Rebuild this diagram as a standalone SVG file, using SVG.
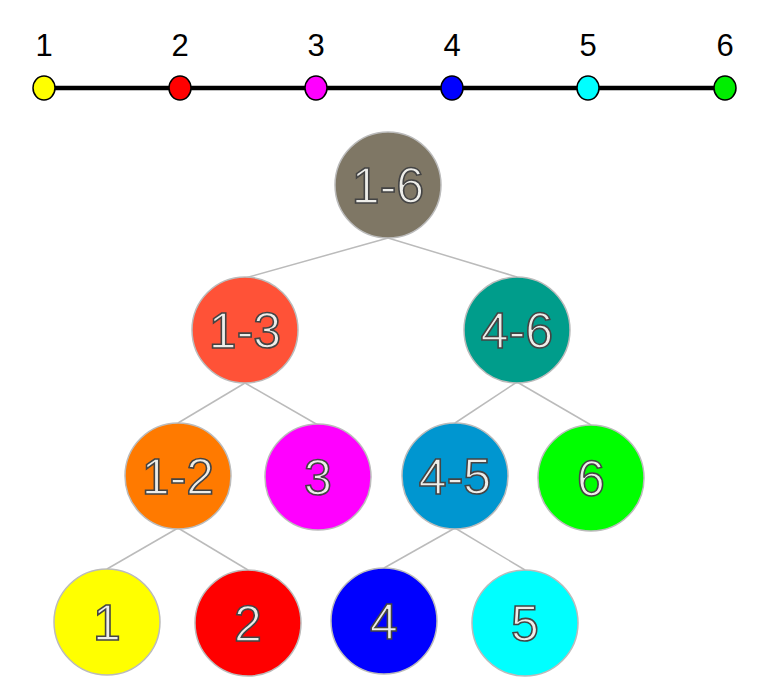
<svg xmlns="http://www.w3.org/2000/svg" width="768" height="696" viewBox="0 0 768 696">
<style>
.lbl{font-family:"Liberation Sans",Arial,sans-serif;font-size:31px;fill:#000;text-anchor:middle}
.dot{stroke:#000;stroke-width:1.5}
.node{stroke:#bbb;stroke-width:1.5}
.txt{font-family:"Liberation Sans",Arial,sans-serif;font-size:50px;fill:#eeeeea;stroke:#444;stroke-width:1.6;text-anchor:middle}
.edge{stroke:#bbb;stroke-width:1.5;fill:none}
</style>
<rect width="768" height="696" fill="#fff"/>
<g id="chain">
<line x1="44" y1="88" x2="725" y2="88" stroke="#000" stroke-width="4.5"/>
<text class="lbl" x="44" y="56">1</text>
<text class="lbl" x="180" y="56">2</text>
<text class="lbl" x="316" y="56">3</text>
<text class="lbl" x="452" y="56">4</text>
<text class="lbl" x="588" y="56">5</text>
<text class="lbl" x="725" y="56">6</text>
<ellipse class="dot" cx="44" cy="88" rx="11" ry="12" fill="#ffff00"/>
<ellipse class="dot" cx="180" cy="88" rx="11" ry="12" fill="#ff0000"/>
<ellipse class="dot" cx="316" cy="88" rx="11" ry="12" fill="#ff00ff"/>
<ellipse class="dot" cx="452" cy="88" rx="11" ry="12" fill="#0000ff"/>
<ellipse class="dot" cx="588" cy="88" rx="11" ry="12" fill="#00ffff"/>
<ellipse class="dot" cx="725" cy="88" rx="11" ry="12" fill="#00ee00"/>
</g>
<g id="connectors">
<line class="edge" x1="388" y1="238" x2="245" y2="278"/>
<line class="edge" x1="388" y1="238" x2="517" y2="277"/>
<line class="edge" x1="245" y1="383" x2="178" y2="423"/>
<line class="edge" x1="245" y1="383" x2="318" y2="425"/>
<line class="edge" x1="517" y1="382" x2="455" y2="423"/>
<line class="edge" x1="517" y1="382" x2="591" y2="425"/>
<line class="edge" x1="178" y1="528" x2="107" y2="569"/>
<line class="edge" x1="178" y1="528" x2="248" y2="570"/>
<line class="edge" x1="455" y1="528" x2="384" y2="568"/>
<line class="edge" x1="455" y1="528" x2="525" y2="570"/>
</g>
<g id="n16"><circle class="node" cx="388" cy="185" r="53" fill="#7f7765"/><text class="txt" x="388" y="203">1-6</text></g>
<g id="n13"><circle class="node" cx="245" cy="330" r="53" fill="#ff5237"/><text class="txt" x="245" y="348">1-3</text></g>
<g id="n46"><circle class="node" cx="517" cy="330" r="53" fill="#009d8b"/><text class="txt" x="517" y="348">4-6</text></g>
<g id="n12"><circle class="node" cx="178" cy="476" r="53" fill="#ff7a00"/><text class="txt" x="178" y="494">1-2</text></g>
<g id="n3"><circle class="node" cx="318" cy="477" r="53" fill="#ff00ff"/><text class="txt" x="318" y="495">3</text></g>
<g id="n45"><circle class="node" cx="455" cy="476" r="53" fill="#0096d0"/><text class="txt" x="455" y="494">4-5</text></g>
<g id="n6"><circle class="node" cx="591" cy="478" r="53" fill="#00ff00"/><text class="txt" x="591" y="496">6</text></g>
<g id="n1"><circle class="node" cx="107" cy="622" r="53" fill="#ffff00"/><text class="txt" x="107" y="640">1</text></g>
<g id="n2"><circle class="node" cx="248" cy="623" r="53" fill="#ff0000"/><text class="txt" x="248" y="641">2</text></g>
<g id="n4"><circle class="node" cx="384" cy="621" r="53" fill="#0000ff"/><text class="txt" x="384" y="639">4</text></g>
<g id="n5"><circle class="node" cx="525" cy="623" r="53" fill="#00ffff"/><text class="txt" x="525" y="641">5</text></g>
</svg>
